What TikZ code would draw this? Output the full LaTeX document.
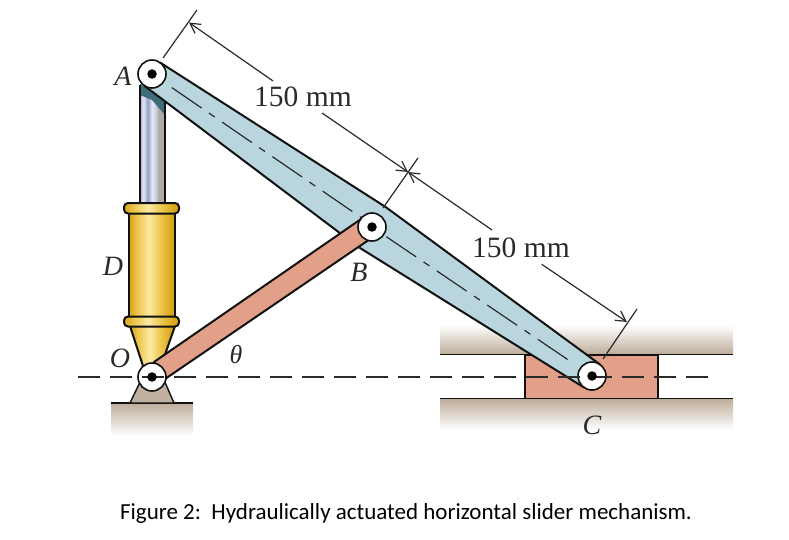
\documentclass[tikz,border=0pt]{standalone}
\usepackage{fontspec}
\setmainfont{Liberation Serif}
\newfontfamily\capfont{Carlito}
\usetikzlibrary{arrows.meta,calc}
\definecolor{gold1}{HTML}{D6A416}
\definecolor{gold2}{HTML}{EBC347}
\definecolor{gold3}{HTML}{FCEBA2}
\definecolor{rod1}{HTML}{A9B3D0}
\definecolor{rod2}{HTML}{E6E9F4}
\definecolor{rod3}{HTML}{8E9FC8}
\definecolor{rod4}{HTML}{C6CBDD}
\definecolor{rod5}{HTML}{B3ABA5}
\definecolor{barblue}{HTML}{B9D5DD}
\definecolor{linkpink}{HTML}{E3A088}
\definecolor{groundc}{HTML}{BEAE9C}
\definecolor{basec}{HTML}{BFB09F}
\definecolor{teal}{HTML}{3F6D7A}
\definecolor{inkc}{HTML}{111111}
\definecolor{dimc}{HTML}{2A2A2A}
\pgfdeclarehorizontalshading{goldsh}{100bp}{color(0bp)=(gold1); color(25bp)=(gold1); color(33bp)=(gold2); color(47bp)=(gold3); color(60bp)=(gold2); color(72bp)=(gold1); color(75bp)=(gold1); color(100bp)=(gold1)}
\pgfdeclarehorizontalshading{rodsh}{100bp}{color(0bp)=(rod1); color(25bp)=(rod1); color(32bp)=(rod2); color(41bp)=(rod3); color(50bp)=(rod2); color(59bp)=(rod4); color(63bp)=(rod5); color(75bp)=(rod5); color(100bp)=(rod5)}
\tikzset{
  outline/.style={draw=inkc,line width=2pt,line join=round},
  railline/.style={draw=inkc,line width=1.7pt},
  pinbody/.style={circle,draw=inkc,line width=1.6pt,fill=white,minimum size=28pt,inner sep=0pt},
  pindot/.style={circle,fill=black,minimum size=9.5pt,inner sep=0pt},
  lab/.style={font=\fontsize{28}{28}\selectfont\itshape,text=dimc,inner sep=0pt},
  dimtext/.style={font=\fontsize{29.5}{29.5}\selectfont,text=dimc,inner sep=0pt},
  dimline/.style={draw=dimc,line width=1.2pt},
  dimarrow/.style={dimline,-{Straight Barb[length=10pt,width=11pt,line width=1.2pt]}},
  centre/.style={draw=dimc,line width=1.5pt,dash pattern=on 22pt off 10pt},
  chain/.style={draw=dimc,line width=1.2pt,dash pattern=on 36pt off 9pt on 7pt off 9pt},
}
\begin{document}
\begin{tikzpicture}[x=1pt,y=-1pt]
\useasboundingbox (0,0) rectangle (789,540);
\coordinate (A) at (152,74);
\coordinate (B) at (372,227);
\coordinate (C) at (592,376);
\coordinate (O) at (152,377);

% ground
\shade[top color=groundc,bottom color=white] (111,403) rectangle (193,436);
\shade[top color=white,bottom color=groundc] (440,325) rectangle (733,354);
\shade[top color=groundc,bottom color=white] (440,399) rectangle (733,430);
\draw[railline] (111,403) -- (193,403);
\draw[railline] (440,354.5) -- (733,354.5);
\draw[railline] (440,398.5) -- (733,398.5);
% slider block
\draw[railline,fill=linkpink] (525,355) rectangle (658,398.5);
% base
\fill[basec,draw=inkc,line width=1.4pt] (130,403) -- (141,380) -- (164,380) -- (174,403) -- cycle;
% cylinder
\shade[shading=rodsh] (140,85) rectangle (164,204);
\fill[teal] (140,84) -- (164,100) -- (164,114) -- (152,100) -- (140,95) -- cycle;
\draw[outline] (140,85) -- (140,204) (164.5,100) -- (164.5,204);
\shade[shading=goldsh] (129,213) rectangle (175,318);
\draw[outline] (129,213) -- (129,318) (175,213) -- (175,318);
\shade[shading=goldsh] (130,326) -- (175,326) -- (160,368) -- (144,368) -- cycle;
\draw[outline] (130,326) -- (143,366) (175,326) -- (161,366);
\draw[outline,shading=goldsh,rounded corners=4pt] (124,203) rectangle (179,213.5);
\draw[outline,shading=goldsh,rounded corners=4pt] (124,316.5) rectangle (179,326.5);
% long link
\draw[outline,fill=barblue] (160,62.5) -- (385.6,207) -- (600,364.5) -- (584,387.5) -- (358.4,247) -- (144,85.5) -- cycle;
\draw[chain] ($(A)!0.045!(C)$) -- ($(A)!0.505!(C)$);
\draw[chain] ($(B)!0.065!(C)$) -- ($(B)!0.9!(C)$);
% short link
\draw[outline,fill=linkpink] (154,362) -- (364,217) -- (376,235) -- (165,379) -- cycle;
% pins
\node[pinbody] (pinA) at (A) {};
\node[pinbody] (pinB) at (B) {};
\node[pinbody] (pinC) at (C) {};
\node[pinbody] (pinO) at (O) {};
% centre line
\draw[centre] (78,377) -- (714,377);
\node[pindot] (dotA) at (A) {};
\node[pindot] (dotB) at (B) {};
\node[pindot] (dotC) at (C) {};
\node[pindot] (dotO) at (O) {};
% dimensions
\coordinate (e1a) at (163,58); \coordinate (e1b) at (197,10);
\coordinate (e2a) at (383,208); \coordinate (e2b) at (418,158);
\coordinate (e3a) at (603,359); \coordinate (e3b) at (637,309);
\coordinate (t1) at (189,22.5); \coordinate (t2) at (408,172); \coordinate (t3) at (627,322);
\coordinate (g1) at (273,81); \coordinate (g2) at (322,113);
\coordinate (g3) at (492,230); \coordinate (g4) at (541.7,264.3);
\draw[dimline] (e1a) -- (e1b);
\draw[dimline] (e2a) -- (e2b);
\draw[dimline] (e3a) -- (e3b);
\draw[dimarrow] (g1) -- (t1);
\draw[dimarrow] (g2) -- (t2);
\draw[dimarrow] (g3) -- (t2);
\draw[dimarrow] (g4) -- (t3);
% labels
\node[dimtext] (d1) at (303,96.5) {150 mm};
\node[dimtext] (d2) at (521,247.5) {150 mm};
\node[lab] (la) at (123,76) {A};
\node[lab] (lb) at (359,272) {B};
\node[lab] (lc) at (592,425) {C};
\node[lab] (ld) at (113,266) {D};
\node[lab] (lo) at (120,358) {O};
\node[lab,font=\fontsize{26}{26}\selectfont\itshape] (lt) at (236,355) {θ};
\node[font=\capfont\fontsize{23}{23}\selectfont,text=black,inner sep=0pt] (cap) at (406,513) {Figure 2:\ \ Hydraulically actuated horizontal slider mechanism.};
\end{tikzpicture}
\end{document}
